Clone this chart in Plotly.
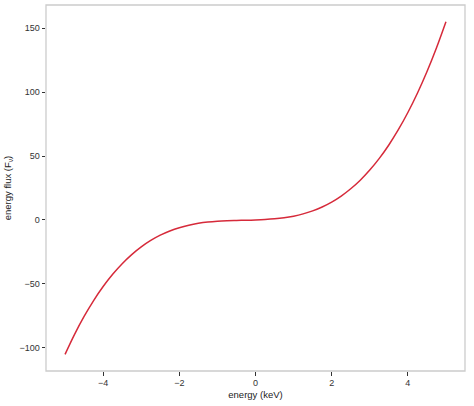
import plotly.graph_objects as go

# energy grid (keV) and flux
energy = [-5.0, -4.75, -4.5, -4.25, -4.0, -3.75, -3.5, -3.25, -3.0, -2.75,
          -2.5, -2.25, -2.0, -1.75, -1.5, -1.25, -1.0, -0.75, -0.5, -0.25,
          0.0, 0.25, 0.5, 0.75, 1.0, 1.25, 1.5, 1.75, 2.0, 2.25,
          2.5, 2.75, 3.0, 3.25, 3.5, 3.75, 4.0, 4.25, 4.5, 4.75, 5.0]
flux = [-105.0, -89.36, -75.38, -62.95, -52.0, -42.42, -34.13, -27.02, -21.0, -15.98,
        -11.88, -8.58, -6.0, -4.05, -2.63, -1.64, -1.0, -0.61, -0.38, -0.2,
        0.0, 0.33, 0.88, 1.73, 3.0, 4.77, 7.13, 10.17, 14.0, 18.7,
        24.38, 31.11, 39.0, 48.14, 58.63, 70.55, 84.0, 99.08, 115.88, 134.48, 155.0]

fig = go.Figure()
fig.add_trace(go.Scatter(
    x=energy, y=flux, mode="lines",
    line=dict(color="#d62a3a", width=1.5, shape="spline", smoothing=1),
    showlegend=False, hoverinfo="skip",
))

axis_style = dict(
    showline=False, showgrid=False, zeroline=False,
    ticks="outside", ticklen=3.5, tickwidth=1, tickcolor="#333333",
    tickfont=dict(size=9, color="#333333"),
)

fig.update_xaxes(range=[-5.5, 5.5], tickvals=[-4, -2, 0, 2, 4],
                 ticktext=["\u22124", "\u22122", "0", "2", "4"],
                 title=dict(text="energy (keV)", font=dict(size=9.5, color="#222222"),
                            standoff=4),
                 **axis_style)
fig.update_yaxes(range=[-118, 168], tickvals=[-100, -50, 0, 50, 100, 150],
                 ticktext=["\u2212100", "\u221250", "0", "50", "100", "150"],
                 title=dict(text="energy flux (F<sub>\u03bd</sub>)",
                            font=dict(size=9.5, color="#222222"), standoff=6),
                 **axis_style)

# axes frame
fig.add_shape(type="rect", xref="x domain", yref="y domain",
              x0=0, x1=1, y0=0, y1=1,
              line=dict(color="#cccccc", width=1.3), layer="below")

fig.update_layout(
    width=474, height=406,
    margin=dict(l=46, r=9, t=5, b=35),
    paper_bgcolor="white", plot_bgcolor="white",
    font=dict(family="Liberation Sans, Arial, sans-serif"),
    hovermode=False,
)

# drop the default 8px body margin so the figure sits at the window's corner
fig.write_html("out.html", config={"displayModeBar": False},
               post_script="document.body.style.margin='0px';")
